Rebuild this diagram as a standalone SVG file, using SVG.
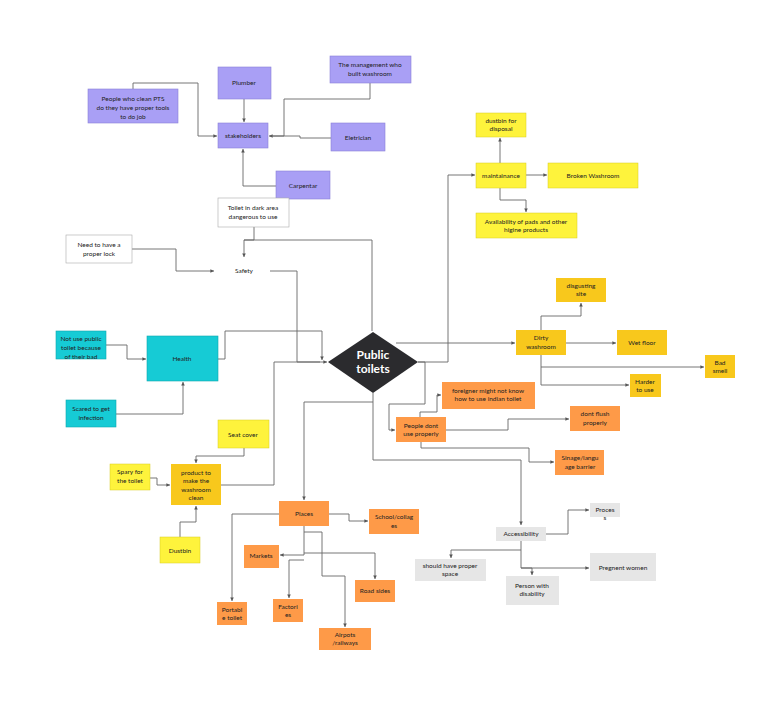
<svg xmlns="http://www.w3.org/2000/svg" width="768" height="727" viewBox="0 0 768 727">
<defs>
<marker id="a" viewBox="0 0 6 6" refX="6" refY="3" markerWidth="4" markerHeight="4" orient="auto"><path d="M0,0L6,3L0,6z" fill="#555"/></marker>
<style>
text{font-family:Lato,"Liberation Sans",sans-serif;font-size:6.5px;fill:#222;text-anchor:middle}
.p{fill:#a99ff5;stroke:#8a80d8;stroke-width:.6}
.w{fill:#fff;stroke:#aaa;stroke-width:.6}
.c{fill:#16cbd5;stroke:#10a8b0;stroke-width:.6}
.y{fill:#fef33c;stroke:#d8cc20;stroke-width:.5}
.d{fill:#f8c81c}
.o{fill:#fe9a48}
.g{fill:#e6e6e6}
#edges path{fill:none;stroke:#666;stroke-width:.9;marker-end:url(#a)}
#edges path.n{marker-end:none}
</style>
</defs>
<rect width="768" height="727" fill="#fff"/>
<g id="edges">
<path d="M133,89V83H198V136H217"/>
<path d="M244,99V122"/>
<path d="M370,83V99H284V136H269"/>
<path d="M331,138H300V136H270" class="n"/>
<path d="M276,186H243V149"/>
<path d="M254,227V240H244V257"/>
<path d="M244,240H372V331" class="n"/>
<path d="M132,249H176V271H214"/>
<path d="M270,271H297V362H327"/>
<path d="M106,345H127V359H146"/>
<path d="M116,414H183V382"/>
<path d="M218,359H225V331H322V360"/>
<path d="M244,448V456H196V463"/>
<path d="M150,478H157V485H170"/>
<path d="M180,537V522H196V506"/>
<path d="M221,485H274V362H320" class="n"/>
<path d="M373,393V402H304V500"/>
<path d="M373,402V460H521V525"/>
<path d="M418,362H448V175H475"/>
<path d="M500,163V138"/>
<path d="M526,175H547"/>
<path d="M500,188V200H526V212"/>
<path d="M396,343H515"/>
<path d="M541,330V316H581V303"/>
<path d="M566,343H616"/>
<path d="M541,355V367H704"/>
<path d="M541,367V385H629"/>
<path d="M418,362H425V404H389V430H395"/>
<path d="M420,417V412H437V395H441"/>
<path d="M446,430H508V419H569"/>
<path d="M421,442V448H529V462H554"/>
<path d="M279,514H232V601"/>
<path d="M329,514H349V521H368"/>
<path d="M304,526V555H280"/>
<path d="M304,560H289V598"/>
<path d="M304,532H322V576H345V627"/>
<path d="M304,553H375V579"/>
<path d="M546,534H568V510H589"/>
<path d="M521,541V550H451V558"/>
<path d="M521,550V568H532V575"/>
<path d="M521,568H589"/>
</g>
<g id="n-people"><rect class="p" x="88" y="89" width="90" height="34"/><text x="133" y="101">People who clean PTS</text><text x="133" y="110">do they have proper tools</text><text x="133" y="119">to do job</text></g>
<g id="n-plumber"><rect class="p" x="218" y="67" width="53" height="32"/><text x="244" y="85">Plumber</text></g>
<g id="n-mgmt"><rect class="p" x="330" y="56" width="81" height="27"/><text x="370" y="67">The management who</text><text x="370" y="76">built washroom</text></g>
<g id="n-stake"><rect class="p" x="218" y="123" width="50" height="25" stroke="none"/><text x="243" y="138">stakeholders</text></g>
<g id="n-elec"><rect class="p" x="331" y="123" width="54" height="28"/><text x="358" y="140">Eletrician</text></g>
<g id="n-carp"><rect class="p" x="276" y="171" width="54" height="28"/><text x="303" y="188">Carpentar</text></g>
<g id="n-dark"><rect class="w" x="218" y="198" width="71" height="29"/><text x="253" y="210">Toilet in dark area</text><text x="253" y="219">dangerous to use</text></g>
<g id="n-lock"><rect class="w" x="66" y="235" width="66" height="28"/><text x="99" y="247">Need to have a</text><text x="99" y="256">proper lock</text></g>
<g id="n-safety"><text x="244" y="273">Safety</text></g>
<g id="n-notuse"><rect class="c" x="56" y="331" width="50" height="28"/><text x="81" y="341">Not use public</text><text x="81" y="350">toilet because</text><text x="81" y="358.5">of their bad</text></g>
<g id="n-health"><rect class="c" x="147" y="336" width="71" height="45" stroke="none"/><text x="182" y="361">Health</text></g>
<g id="n-scared"><rect class="c" x="66" y="400" width="50" height="27"/><text x="91" y="411">Scared to get</text><text x="91" y="420">infection</text></g>
<g id="n-seat"><rect class="y" x="218" y="420" width="51" height="28"/><text x="243" y="437">Seat cover</text></g>
<g id="n-spary"><rect class="y" x="110" y="464" width="40" height="26"/><text x="130" y="474">Spary for</text><text x="130" y="483">the toilet</text></g>
<g id="n-product"><rect class="d" x="171" y="464" width="50" height="41"/><text x="196" y="475">product to</text><text x="196" y="483">make the</text><text x="196" y="492">washroom</text><text x="196" y="500">clean</text></g>
<g id="n-dustbin"><rect class="y" x="160" y="537" width="40" height="26"/><text x="180" y="553">Dustbin</text></g>
<g id="n-public"><path d="M373,332L418,362L373,393L328,362Z" fill="#2b2b2e"/><text x="373" y="359" style="font-size:12px;font-weight:bold;fill:#fff">Public</text><text x="373" y="373" style="font-size:12px;font-weight:bold;fill:#fff">toilets</text></g>
<g id="n-dispose"><rect class="y" x="476" y="113" width="50" height="24" stroke="none"/><text x="501" y="123">dustbin for</text><text x="501" y="131">disposal</text></g>
<g id="n-maint"><rect class="y" x="476" y="163" width="50" height="25" stroke="none"/><text x="501" y="178">maintainance</text></g>
<g id="n-broken"><rect class="y" x="548" y="163" width="90" height="25" stroke="none"/><text x="593" y="178">Broken Washroom</text></g>
<g id="n-avail"><rect class="y" x="476" y="213" width="101" height="25" stroke="none"/><text x="526" y="224">Availability of pads and other</text><text x="526" y="232">higine products</text></g>
<g id="n-disg"><rect class="d" x="556" y="278" width="50" height="24"/><text x="581" y="288">disgusting</text><text x="581" y="296">site</text></g>
<g id="n-dirty"><rect class="d" x="516" y="330" width="50" height="25"/><text x="541" y="340">Dirty</text><text x="541" y="349">washroom</text></g>
<g id="n-wet"><rect class="d" x="617" y="330" width="50" height="25"/><text x="642" y="345">Wet floor</text></g>
<g id="n-smell"><rect class="d" x="705" y="355" width="30" height="23"/><text x="720" y="365">Bad</text><text x="720" y="373">smell</text></g>
<g id="n-harder"><rect class="d" x="630" y="374" width="31" height="23"/><text x="645" y="384">Harder</text><text x="645" y="392">to use</text></g>
<g id="n-foreign"><rect class="o" x="442" y="382" width="93" height="27"/><text x="488" y="393">foreigner might not know</text><text x="488" y="401">how to use indian toilet</text></g>
<g id="n-pdont"><rect class="o" x="396" y="417" width="50" height="25"/><text x="421" y="428">People dont</text><text x="421" y="436">use properly</text></g>
<g id="n-flush"><rect class="o" x="570" y="406" width="50" height="25"/><text x="595" y="416">dont flush</text><text x="595" y="425">properly</text></g>
<g id="n-sinage"><rect class="o" x="555" y="450" width="49" height="25"/><text x="580" y="460">Sinage/langu</text><text x="580" y="469">age barrier</text></g>
<g id="n-places"><rect class="o" x="279" y="501" width="50" height="25"/><text x="304" y="516">Places</text></g>
<g id="n-school"><rect class="o" x="369" y="509" width="50" height="25"/><text x="394" y="519">School/collag</text><text x="394" y="528">es</text></g>
<g id="n-markets"><rect class="o" x="244" y="545" width="35" height="23"/><text x="261" y="558">Markets</text></g>
<g id="n-portable"><rect class="o" x="217" y="602" width="30" height="23"/><text x="232" y="612">Portabl</text><text x="232" y="620">e toilet</text></g>
<g id="n-fact"><rect class="o" x="273" y="599" width="30" height="23"/><text x="288" y="609">Factori</text><text x="288" y="617">es</text></g>
<g id="n-road"><rect class="o" x="355" y="580" width="40" height="22"/><text x="375" y="593">Road sides</text></g>
<g id="n-airports"><rect class="o" x="319" y="628" width="52" height="22"/><text x="345" y="637">Airpots</text><text x="345" y="645">/railways</text></g>
<g id="n-access"><rect class="g" x="496" y="527" width="50" height="14"/><text x="521" y="536">Accessibility</text></g>
<g id="n-process"><rect class="g" x="590" y="503" width="30" height="14"/><text x="605" y="512">Proces</text><text x="605" y="520">s</text></g>
<g id="n-space"><rect class="g" x="415" y="559" width="71" height="22"/><text x="450" y="568">should have proper</text><text x="450" y="576">space</text></g>
<g id="n-disab"><rect class="g" x="506" y="576" width="53" height="29"/><text x="532" y="588">Person with</text><text x="532" y="596">disability</text></g>
<g id="n-preg"><rect class="g" x="590" y="553" width="66" height="28"/><text x="623" y="570">Pregnent women</text></g>
</svg>
